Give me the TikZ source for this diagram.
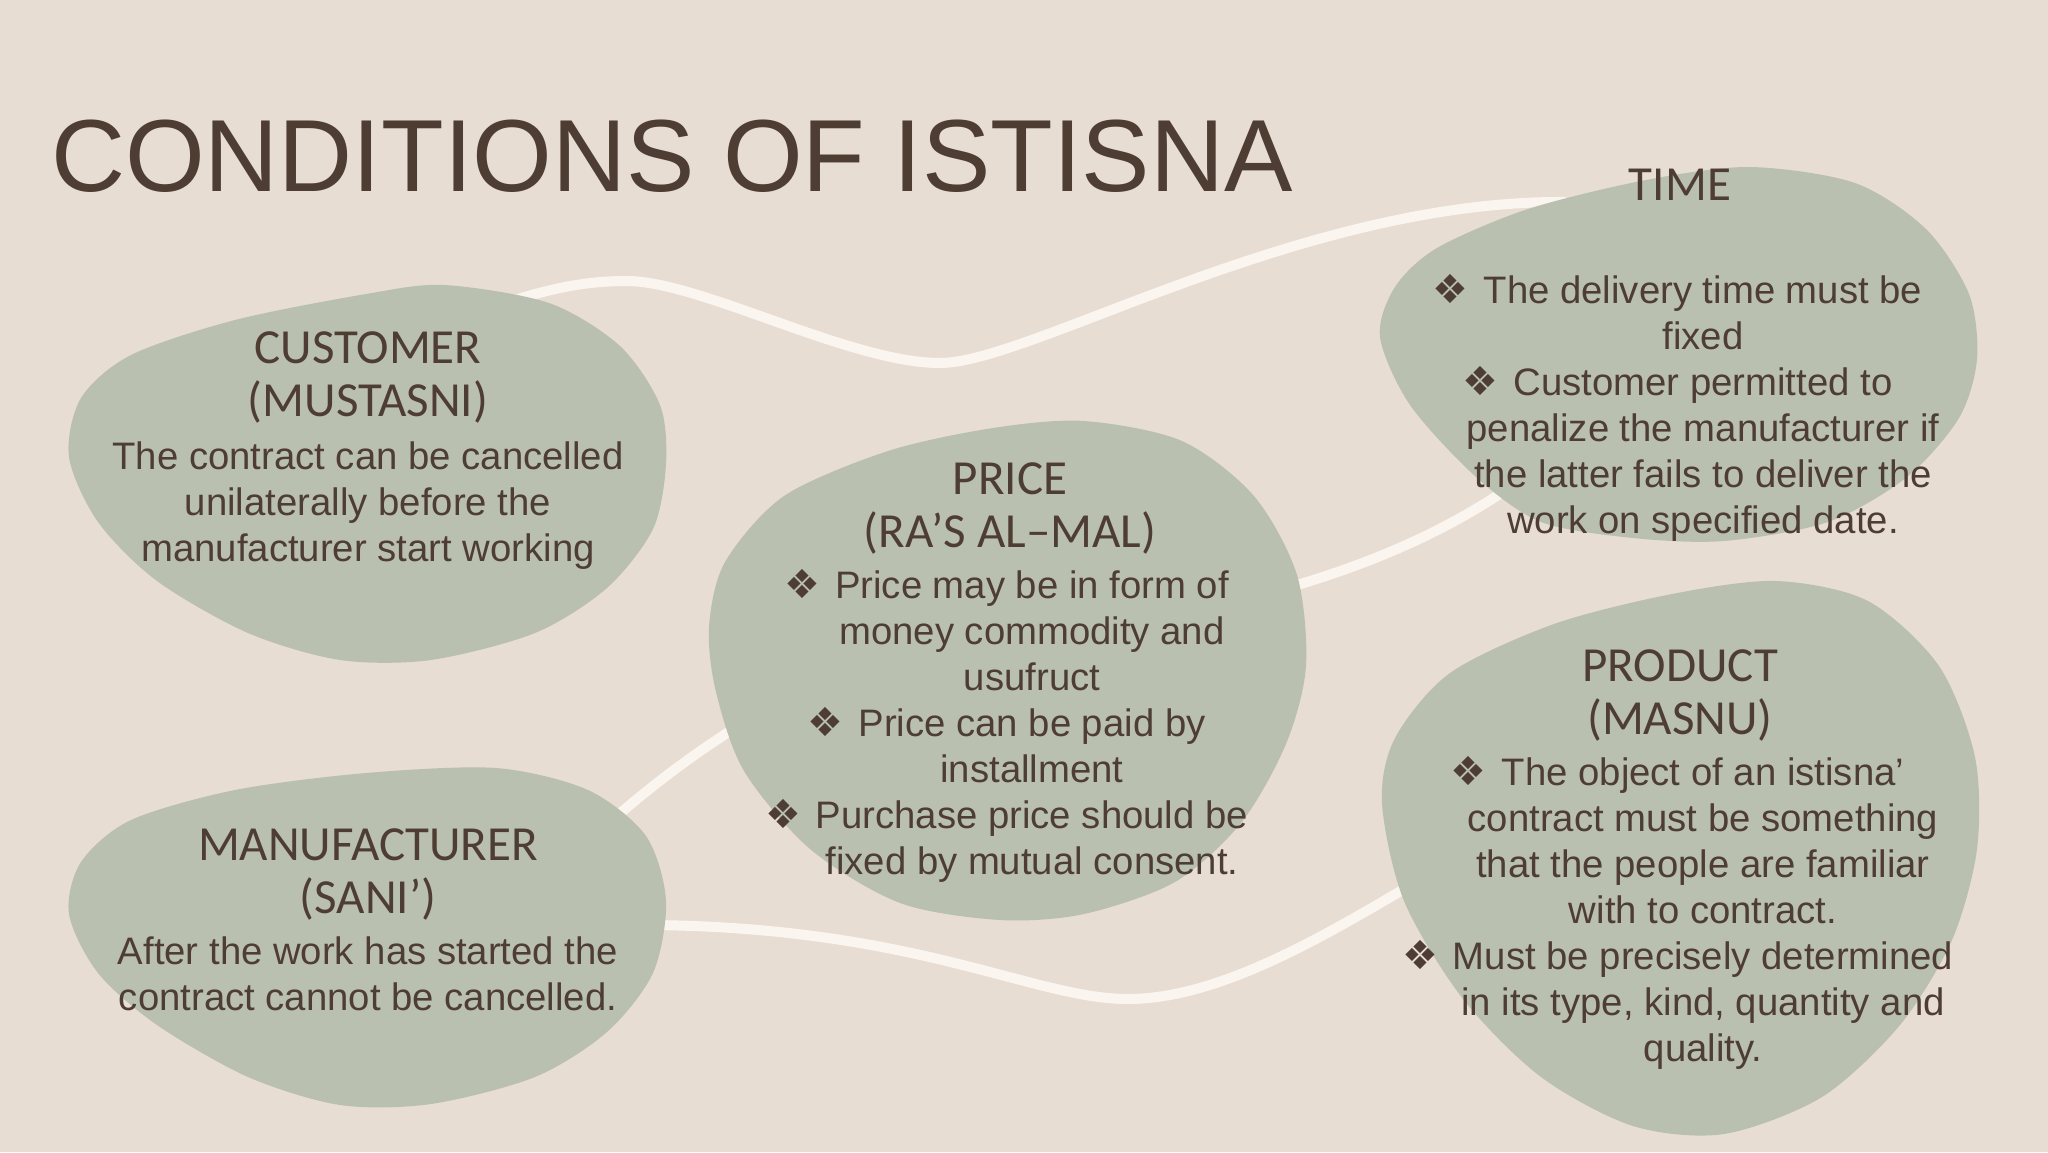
\documentclass[tikz,border=0pt]{standalone}
\usepackage{fontspec}
\setmainfont{Liberation Sans}
\newfontfamily\headfont{Carlito}
\newfontfamily\bulfont{DejaVu Sans}
\definecolor{bgc}{HTML}{E8DDD3}
\definecolor{blobc}{HTML}{BAC0AF}
\definecolor{ink}{HTML}{4E3D33}
\definecolor{wavec}{HTML}{FBF5F0}
\newcommand\bul{\llap{{\bulfont\fontsize{40}{40}\selectfont ❖}\hspace{15pt}}}
\begin{document}
\begin{tikzpicture}[x=1pt,y=-1pt,
  blob/.style={fill=blobc,draw=none},
  wave/.style={draw=wavec,line width=10pt,line cap=round},
  head/.style={font=\headfont\fontsize{49}{51}\selectfont,text=ink,align=center,inner sep=0pt},
  body/.style={font=\fontsize{38.3}{46}\selectfont,text=ink,align=center,inner sep=0pt}]
\fill[bgc] (0,0) rectangle (2048,1152);
\useasboundingbox (0,0) rectangle (2048,1152);

% connector end points (inside the blobs)
\coordinate (cw1) at (470,315);
\coordinate (tw1) at (1565,202);
\coordinate (tw2) at (1540,465);
\coordinate (pw2) at (1250,598);
\coordinate (pw3) at (790,695);
\coordinate (mw3) at (590,840);
\coordinate (mw4) at (620,925);
\coordinate (dw4) at (1450,862);
\coordinate (peak) at (627,281);
\coordinate (valley) at (940,363);
\coordinate (low) at (1128,999);

\draw[wave] (cw1) .. controls (540,290) and (580,281) .. (peak)
  .. controls (700,281) and (850,363) .. (valley)
  .. controls (1030,363) and (1300,200) .. (tw1);
\draw[wave] (tw2) .. controls (1470,520) and (1380,565) .. (pw2);
\draw[wave] (mw3) .. controls (650,785) and (710,740) .. (pw3);
\draw[wave] (mw4) .. controls (910,922) and (1030,999) .. (low)
  .. controls (1230,999) and (1350,920) .. (dw4);

% blobs
\fill[blob] plot[smooth cycle] coordinates {(69,457) (81,398) (131,355) (235,320) (366,294) (444,285) (549,303) (620,346) (660,405) (666,464) (653,529) (607,588) (535,633) (431,660) (340,660) (248,633) (157,581) (98,522)};
\fill[blob] plot[smooth cycle] coordinates {(69,914) (81,862) (131,820) (235,790) (366,773) (496,768) (588,790) (646,836) (666,901) (653,973) (607,1032) (535,1077) (431,1104) (340,1105) (248,1077) (157,1025) (98,973)};
\fill[blob] plot[smooth cycle] coordinates {(709,627) (725,562) (784,496) (888,451) (993,428) (1084,421) (1182,441) (1254,496) (1297,575) (1306,666) (1286,744) (1241,823) (1175,882) (1084,914) (1000,920) (900,903) (810,849) (744,771) (716,692)};
\fill[blob] plot[smooth cycle] coordinates {(1380,337) (1395,287) (1437,248) (1528,209) (1646,180) (1750,167) (1855,183) (1926,229) (1969,294) (1977,359) (1959,418) (1907,477) (1828,522) (1724,541) (1633,538) (1541,522) (1476,477) (1410,405)};
\fill[blob] plot[smooth cycle] coordinates {(1382,803) (1395,738) (1450,673) (1554,624) (1672,594) (1776,581) (1868,601) (1939,666) (1975,757) (1977,849) (1952,940) (1900,1025) (1822,1097) (1724,1134) (1633,1126) (1541,1077) (1463,999) (1404,901)};

% title
\node[anchor=base west,font=\fontsize{102.5}{110}\selectfont,text=ink,inner sep=0pt] (title) at (51,191) {CONDITIONS OF ISTISNA};

% customer
\node[head,anchor=north] (custH) at (368,328) {\strut CUSTOMER\\(MUSTASNI)};
\node[body,anchor=north] (custB) at (368,437) {\strut The contract can be cancelled\\unilaterally before the\\manufacturer start working};

% manufacturer
\node[head,anchor=north] (manH) at (368,825) {\strut MANUFACTURER\\(SANI’)};
\node[body,anchor=north] (manB) at (368,932) {\strut After the work has started the\\contract cannot be cancelled.};

% price
\node[head,anchor=north] (priceH) at (1010,459) {\strut PRICE\\(RA’S AL–MAL)};
\node[body,anchor=north] (priceB) at (1032,566) {\strut\bul Price may be in form of\\money commodity and\\usufruct\\\bul Price can be paid by\\installment\\\bul Purchase price should be\\fixed by mutual consent.};

% time
\node[head,anchor=base] (timeH) at (1680,200) {TIME};
\node[body,anchor=north] (timeB) at (1703,271) {\strut\bul The delivery time must be\\fixed\\\bul Customer permitted to\\penalize the manufacturer if\\the latter fails to deliver the\\work on specified date.};

% product
\node[head,anchor=north] (prodH) at (1680,646) {\strut PRODUCT\\(MASNU)};
\node[body,anchor=north] (prodB) at (1703,753) {\strut\bul The object of an istisna’\\contract must be something\\that the people are familiar\\with to contract.\\\bul Must be precisely determined\\in its type, kind, quantity and\\quality.};
\end{tikzpicture}
\end{document}
